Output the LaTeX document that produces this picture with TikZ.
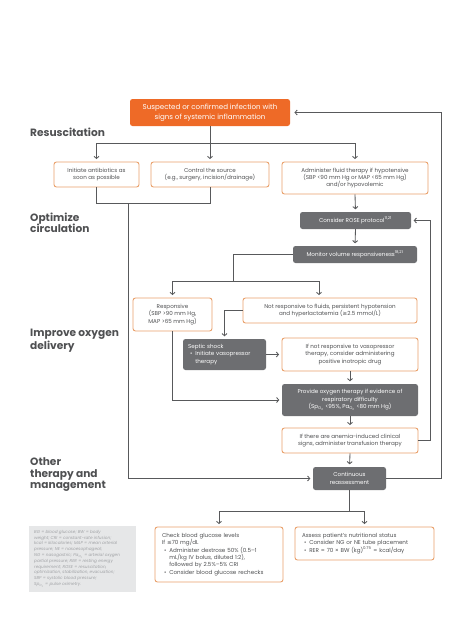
\documentclass[tikz,border=0pt]{standalone}
\usepackage{fontspec}
\setmainfont{Poppins}
\newfontfamily\symf{DejaVu Sans}
\usetikzlibrary{arrows.meta}
\definecolor{orng}{HTML}{EE6A27}
\definecolor{obord}{HTML}{E9A06B}
\definecolor{gbox}{HTML}{6D6E71}
\definecolor{lin}{HTML}{58595B}
\definecolor{txt}{HTML}{4F5052}
\definecolor{leg}{HTML}{E6E7E8}
\definecolor{legt}{HTML}{A2A4A7}
\begin{document}
\begin{tikzpicture}[x=1pt,y=-1pt,
 boxtxt/.style={font=\fontsize{5.6}{7.3}\selectfont, align=center, inner sep=1pt},
 obox/.style={boxtxt, draw=obord, line width=0.9pt, rounded corners=2.5pt, fill=white, text=txt},
 gbx/.style={boxtxt, fill=gbox, rounded corners=2.5pt, text=white},
 conn/.style={draw=lin, line width=0.85pt},
 arr/.style={conn, -{Straight Barb[length=2.2pt,width=5pt]}, shorten >=2.5pt},
 head/.style={anchor=base west, align=left, text=txt, font=\fontsize{10.6}{11.4}\selectfont\bfseries, inner sep=0pt},
]
\useasboundingbox (0,0) rectangle (474,634);

% section headings (anchor = baseline of last line)
\node[head] (h1) at (30,136) {Resuscitation};
\node[head] (h2) at (30,232.5) {Optimize\\circulation};
\node[head] (h3) at (30,349) {Improve oxygen\\delivery};
\node[head] (h4) at (30,488.5) {Other\\therapy and\\management};

% boxes
\node[obox, fill=orng, draw=none, text=white, font=\fontsize{7.1}{10}\selectfont,
      minimum width=160pt, minimum height=27pt] (top) at (210,112.5)
      {Suspected or confirmed infection with\\signs of systemic inflammation};
\node[obox, minimum width=85pt, minimum height=25pt] (b1) at (96.5,174.5)
      {Initiate antibiotics as\\soon as possible};
\node[obox, minimum width=118pt, minimum height=25pt] (b2) at (210,174.5)
      {Control the source\\(e.g., surgery, incision/drainage)};
\node[obox, minimum width=146pt, minimum height=32pt] (b3) at (355,178)
      {Administer fluid therapy if hypotensive\\(SBP <90 mm Hg or MAP <65 mm Hg)\\and/or hypovolemic};
\node[gbx, minimum width=111pt, minimum height=17pt] (rose) at (355.5,220.5)
      {Consider ROSE protocol\textsuperscript{11,21}};
\node[gbx, minimum width=124pt, minimum height=17pt] (monitor) at (355,254.5)
      {Monitor volume responsiveness\textsuperscript{18,21}};
\node[obox, minimum width=79pt, minimum height=33pt] (resp) at (172.5,314.5)
      {Responsive\\(SBP >90 mm Hg,\\MAP >65 mm Hg)};
\node[obox, minimum width=174pt, minimum height=25pt] (notresp) at (330,310.5)
      {Not responsive to fluids, persistent hypotension\\and hyperlactatemia ({\symf ≥}2.5 mmol/L)};
\node[gbx, align=left, text width=73pt, inner xsep=5pt, minimum height=31pt] (septic) at (224.5,354.5)
      {Septic shock\\\hspace*{2pt}\textbullet\hspace{3pt}Initiate vasopressor\\\hspace*{2pt}\hphantom{\textbullet}\hspace{3pt}therapy};
\node[obox, minimum width=136pt, minimum height=33pt] (ifnot) at (350,354.5)
      {If not responsive to vasopressor\\therapy, consider administering\\positive inotropic drug};
\node[gbx, minimum width=136pt, minimum height=32pt] (oxygen) at (350,400)
      {Provide oxygen therapy if evidence of\\respiratory difficulty\\(Sp\textsubscript{O\textsubscript{2}} <95\%, Pa\textsubscript{O\textsubscript{2}} <80 mm Hg)};
\node[obox, minimum width=136pt, minimum height=25pt] (transf) at (350,440.5)
      {If there are anemia-induced clinical\\signs, administer transfusion therapy};
\node[gbx, minimum width=73pt, minimum height=23pt] (cont) at (349.5,478.5)
      {Continuous\\reassessment};
\node[obox, align=left, text width=114pt, inner xsep=7pt, minimum height=55pt] (gluc) at (219,554.5)
      {Check blood glucose levels\\If {\symf ≤}70 mg/dL\\
       \hspace*{2pt}\textbullet\hspace{3pt}Administer dextrose 50\% (0.5–1\\
       \hspace*{2pt}\hphantom{\textbullet}\hspace{3pt}mL/kg IV bolus, diluted 1:2),\\
       \hspace*{2pt}\hphantom{\textbullet}\hspace{3pt}followed by 2.5\%–5\% CRI\\
       \hspace*{2pt}\textbullet\hspace{3pt}Consider blood glucose rechecks};
\node[obox, align=left, text width=125pt, inner xsep=7pt, minimum height=33pt] (nutr) at (364.5,543.5)
      {Assess patient’s nutritional status\\
       \hspace*{2pt}\textbullet\hspace{3pt}Consider NG or NE tube placement\\
       \hspace*{2pt}\textbullet\hspace{3pt}RER = 70 × BW (kg)\textsuperscript{0.75} = kcal/day};

% legend
\fill[leg] (29,526) rectangle (136,592);
\node[anchor=north west, align=left, text=legt, inner sep=0pt,
      font=\fontsize{4.2}{5.8}\selectfont\itshape] (legend) at (34,530)
 {BG = blood glucose; BW = body\\
  weight; CRI = constant-rate infusion;\\
  kcal = kilocalories; MAP = mean arterial\\
  pressure; NE = nasoesophageal;\\
  NG = nasogastric; Pa\textsubscript{O\textsubscript{2}} = arterial oxygen\\
  partial pressure; RER = resting energy\\
  requirement; ROSE = resuscitation,\\
  optimization, stabilization, evacuation;\\
  SBP = systolic blood pressure;\\
  Sp\textsubscript{O\textsubscript{2}} = pulse oximetry.};

% junctions
\coordinate (j1) at (210,143);
\coordinate (j2) at (128,203);
\coordinate (j3) at (233,281);
\coordinate (j4) at (349.5,511);
\coordinate (r1) at (430,0);
\coordinate (r2) at (441,0);

% connectors
\draw[conn] (top.south) -- (j1);
\draw[arr] (j1) -| (b1.north);
\draw[arr] (j1) -- (b2.north);
\draw[arr] (j1) -| (b3.north);
\draw[conn] (b1.south) |- (b2.south |- j2) -- (b2.south);
\draw[arr] (j2) |- (cont.west);
\draw[arr] (b3.south) -- (rose.north);
\draw[arr] (rose.south) -- (monitor.north);
\draw[conn] (monitor.west) -| (j3);
\draw[arr] (j3) -| (resp.north);
\draw[arr] (j3) -| ([xshift=-11pt]notresp.north);
\draw[arr] (notresp.west) -| (septic.north);
\draw[arr] (septic.east) -- (ifnot.west);
\draw[arr] (ifnot.south) -- (oxygen.north);
\draw[arr] (resp.south) |- (oxygen.west);
\draw[arr] (oxygen.south) -- (transf.north);
\draw[arr] (transf.east) -| (r1 |- rose.east) -- (rose.east);
\draw[arr] (transf.south) -- (cont.north);
\draw[arr, shorten >=4pt] (cont.east) -| (r2 |- top.east) -- (top.east);
\draw[conn] (cont.south) -- (j4);
\draw[arr] (j4) -| (gluc.north);
\draw[arr] (j4) -| (nutr.north);
\end{tikzpicture}
\end{document}
